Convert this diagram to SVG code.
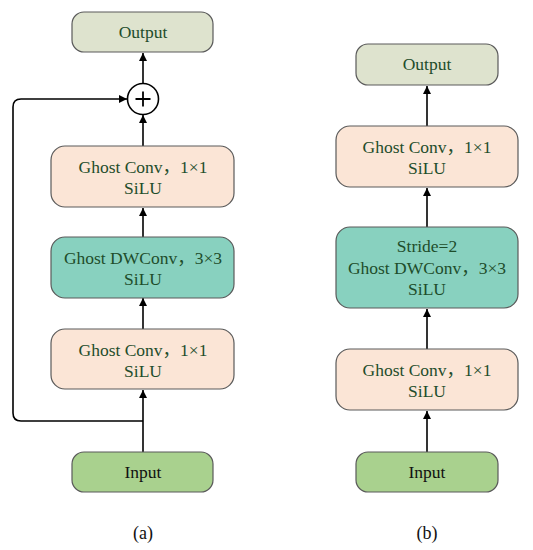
<svg xmlns="http://www.w3.org/2000/svg" width="533" height="550" viewBox="0 0 533 550">
<defs>
<marker id="arr" viewBox="0 0 10 10" refX="10" refY="5" markerWidth="8" markerHeight="9" markerUnits="userSpaceOnUse" orient="auto">
<path d="M0,0 L10,5 L0,10 z" fill="#000"/>
</marker>
</defs>
<style>
.box{stroke:#5a5a5a;stroke-width:1.2}
.out{fill:#dee3ce}
.conv{fill:#fbe5d6}
.dw{fill:#88d1bf}
.inp{fill:#a9d18e}
.t{font-family:"Liberation Serif","Noto Sans CJK SC",serif;font-size:17.5px;fill:#1e4d2b;text-anchor:middle}
.ti{fill:#111}
.cap{font-family:"Liberation Serif",serif;font-size:18px;fill:#111;text-anchor:middle}
.c{stroke:#000;stroke-width:1.6;fill:none}
</style>
<rect width="533" height="550" fill="#fff"/>
<g id="connectors">
<line class="c" x1="143" y1="83" x2="143" y2="53" marker-end="url(#arr)"/>
<line class="c" x1="143" y1="146" x2="143" y2="115" marker-end="url(#arr)"/>
<line class="c" x1="143" y1="238" x2="143" y2="208" marker-end="url(#arr)"/>
<line class="c" x1="143" y1="329" x2="143" y2="298" marker-end="url(#arr)"/>
<line class="c" x1="143" y1="452" x2="143" y2="390" marker-end="url(#arr)"/>
<path class="c" d="M143,421 L21,421 Q13,421 13,413 L13,107 Q13,99 21,99 L127,99" marker-end="url(#arr)"/>
<line class="c" x1="427" y1="126" x2="427" y2="86" marker-end="url(#arr)"/>
<line class="c" x1="427" y1="227" x2="427" y2="188" marker-end="url(#arr)"/>
<line class="c" x1="427" y1="349" x2="427" y2="309" marker-end="url(#arr)"/>
<line class="c" x1="427" y1="452" x2="427" y2="411" marker-end="url(#arr)"/>
</g>
<g id="a-output"><rect class="box out" x="72" y="12" width="141" height="40" rx="12"/><text class="t" x="143" y="38">Output</text></g>
<g id="a-add"><circle cx="143" cy="99" r="15.5" fill="#fff" stroke="#000" stroke-width="1.6"/><path d="M135.5,99 H150.5 M143,91.5 V106.5" stroke="#000" stroke-width="1.8"/></g>
<g id="a-conv2"><rect class="box conv" x="51" y="146" width="183" height="61" rx="14"/><text class="t" x="143" y="173">Ghost Conv，1×1</text><text class="t" x="143" y="194">SiLU</text></g>
<g id="a-dw"><rect class="box dw" x="51" y="237" width="183" height="61" rx="14"/><text class="t" x="143" y="264">Ghost DWConv，3×3</text><text class="t" x="143" y="285">SiLU</text></g>
<g id="a-conv1"><rect class="box conv" x="51" y="329" width="183" height="60" rx="14"/><text class="t" x="143" y="356">Ghost Conv，1×1</text><text class="t" x="143" y="377">SiLU</text></g>
<g id="a-input"><rect class="box inp" x="72" y="452" width="141" height="40" rx="12"/><text class="t ti" x="143" y="478">Input</text></g>
<text class="cap" x="143" y="539">(a)</text>
<g id="b-output"><rect class="box out" x="356" y="44" width="142" height="41" rx="12"/><text class="t" x="427" y="70">Output</text></g>
<g id="b-conv2"><rect class="box conv" x="336" y="126" width="182" height="61" rx="14"/><text class="t" x="427" y="153">Ghost Conv，1×1</text><text class="t" x="427" y="174">SiLU</text></g>
<g id="b-dw"><rect class="box dw" x="336" y="227" width="182" height="81" rx="14"/><text class="t" x="427" y="252">Stride=2</text><text class="t" x="427" y="274">Ghost DWConv，3×3</text><text class="t" x="427" y="295">SiLU</text></g>
<g id="b-conv1"><rect class="box conv" x="336" y="349" width="182" height="61" rx="14"/><text class="t" x="427" y="376">Ghost Conv，1×1</text><text class="t" x="427" y="397">SiLU</text></g>
<g id="b-input"><rect class="box inp" x="356" y="452" width="142" height="40" rx="12"/><text class="t ti" x="427" y="478">Input</text></g>
<text class="cap" x="427" y="539">(b)</text>
</svg>
